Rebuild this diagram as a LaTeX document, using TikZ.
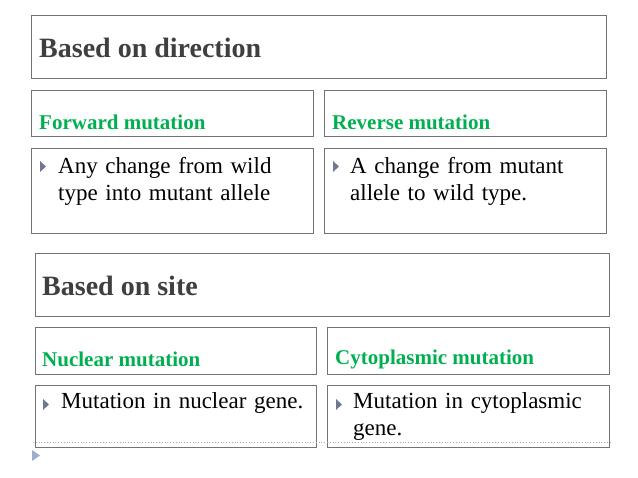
\documentclass[tikz,border=0pt]{standalone}
\usepackage{fontspec}
\setmainfont{Liberation Serif}
\definecolor{grn}{HTML}{00B050}
\definecolor{hd}{HTML}{3F3F3F}
\definecolor{bul}{HTML}{6F7890}
\definecolor{lb}{HTML}{9BB0CC}
\begin{document}
\begin{tikzpicture}[x=1pt,y=-1pt,
  box/.style={draw=black!55,line width=0.7pt},
  head/.style={anchor=west,font=\fontsize{28}{32}\selectfont\bfseries,text=hd,inner sep=0},
  sub/.style={anchor=west,font=\fontsize{21}{24}\selectfont\bfseries,text=grn,inner sep=0},
  body/.style={anchor=north west,font=\fontsize{23}{27}\selectfont,inner sep=0,align=left},
  bullet/.style={fill=bul,inner sep=0}]
\useasboundingbox (0,0) rectangle (638,478);
\draw[box] (31,15) rectangle (606,78);
\node[head] (h1) at (39,48) {Based on direction};
\draw[box] (31,90) rectangle (313,136);
\draw[box] (324,90) rectangle (606,136);
\node[sub] (f) at (39,122) {Forward mutation};
\node[sub] (r) at (332,122) {Reverse mutation};
\draw[box] (31,148) rectangle (313,233);
\draw[box] (324,148) rectangle (606,233);
\fill[bul] (40,161) -- (46,166.5) -- (40,172) -- cycle;
\fill[bul] (333,161) -- (339,166.5) -- (333,172) -- cycle;
\node[body,text width=249pt] (t1) at (58,157) {\makebox[249pt][s]{Any change from wild}\\type into mutant allele};
\node[body,text width=250pt] (t2) at (350,157) {\makebox[250pt][s]{A change from mutant}\\allele to wild type.};
\draw[box] (35,253) rectangle (609,316);
\node[head] (h2) at (42,286) {Based on site};
\draw[box] (35,327) rectangle (316,374);
\draw[box] (327,327) rectangle (609,374);
\node[sub] (n) at (42,359) {Nuclear mutation};
\node[sub] (c) at (335,359) {Cytoplasmic mutation};
\draw[box] (35,385) rectangle (316,447);
\draw[box] (327,385) rectangle (609,447);
\fill[bul] (43,399) -- (49,404.5) -- (43,410) -- cycle;
\fill[bul] (336,399) -- (342,404.5) -- (336,410) -- cycle;
\node[body,text width=245pt] (t3) at (61,392) {Mutation in nuclear gene.};
\node[body,text width=250pt] (t4) at (353,392) {\makebox[250pt][s]{Mutation in cytoplasmic}\\gene.};
\draw[lb,dotted,line width=0.8pt] (33,442) -- (610,442);
\fill[lb] (32,450) -- (40,455.5) -- (32,461) -- cycle;
\end{tikzpicture}
\end{document}
